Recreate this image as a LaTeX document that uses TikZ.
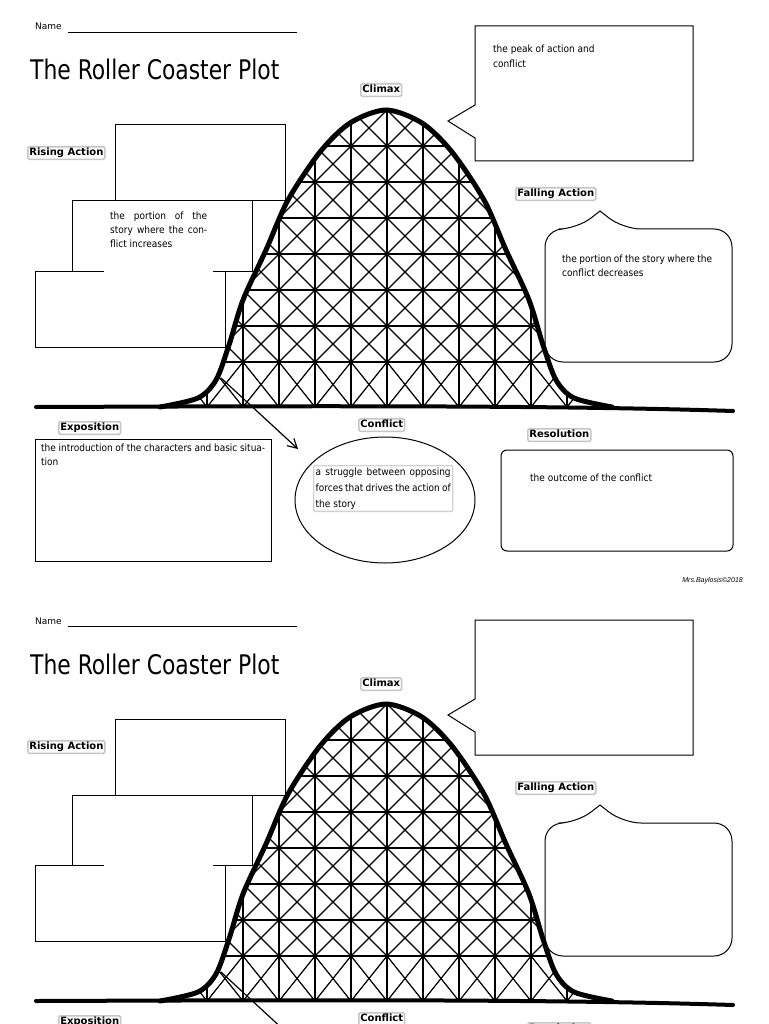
\documentclass[tikz,border=0pt]{standalone}
\usepackage{fontspec}
\setmainfont{DejaVu Sans}
\newfontfamily\condf{DejaVu Sans Condensed}
\newfontfamily\credf{Liberation Sans}
\usetikzlibrary{arrows.meta,shapes.geometric}
\tikzset{
  lab/.style={draw=gray!45,line width=1.6pt,rounded corners=1.5pt,anchor=north west,inner sep=1.5pt,font=\bfseries\fontsize{10}{12}\selectfont,text depth=2pt},
  wbox/.style={draw,line width=1pt,fill=white},
  body/.style={font=\condf\fontsize{10}{14}\selectfont,align=justify,anchor=north west,inner sep=0pt},
  post/.style={line width=2.6pt},
  diag/.style={line width=1.2pt},
  track/.style={line width=5pt,line cap=round},
}
\newcommand\coastercurve{(160,407) (198,398) (216,380) (229,345) (243,300) (266,250) (288,200) (320,152) (350,123) (386,110) (422,123) (452,152) (484,200) (506,250) (529,300) (543,345) (556,380) (574,398) (612,407)}
\newcommand\wsheet[1]{%
  \node[anchor=base west,inner sep=0pt,font=\fontsize{9}{10}\selectfont] (nm) at (35,30) {Name};
  \draw[line width=0.6pt] (68,32) -- (297,32);
  \node[anchor=base west,inner sep=0pt,font=\condf\fontsize{27}{30}\selectfont,xscale=0.9] (title) at (30,80) {The Roller Coaster Plot};
  % rising action boxes
  \node[lab] (ra) at (27,146) {Rising Action\hspace{6pt}};
  \draw[wbox] (115,125) rectangle (285,201);
  \draw[wbox] (72,201) rectangle (252,271);
  \draw[wbox] (35,271) rectangle (225,347);
  \fill[white] (104,267) rectangle (213,275);
  \draw[line width=1pt] (72,201) -- (72,271);
  \ifnum#1=1 \node[body,text width=97pt] (rat) at (110,212) {the portion of the story where the conflict increases}; \fi
  % coaster lattice
  \begin{scope}
    \clip plot[smooth] coordinates {\coastercurve} -- cycle;
    \foreach \x in {171,207,...,567}{
      \foreach \y in {110,146,...,326}{
        \draw[diag] (\x,\y) -- ++(36,36);
        \draw[diag] (\x+36,\y) -- ++(-36,36);
      }
      \draw[diag] (\x,362) -- (\x+36,407);
      \draw[diag] (\x+36,362) -- (\x,407);
    }
    \foreach \x in {207,243,...,567} \draw[post] (\x,100) -- (\x,410);
    \foreach \y in {146,182,...,362} \draw[post] (150,\y) -- (620,\y);
  \end{scope}
  \draw[track] plot[smooth] coordinates {\coastercurve};
  \draw[line width=4pt,line cap=round] (36,407) .. controls (300,406) and (550,405) .. (733,411);
  % climax
  \node[lab] (cl) at (360,83) {Climax\hspace{30pt}};
  \draw[line width=1pt] (475,26) -- (693,26) -- (693,161) -- (475,161) -- (475,138) -- (448,121) -- (475,105) -- cycle;
  \ifnum#1=1 \node[body,align=left,font=\condf\fontsize{10}{15}\selectfont] (clt) at (493,45) {the peak of action and\\conflict}; \fi
  % falling action
  \node[lab] (fa) at (515,187) {Falling Action\hspace{2pt}};
  \draw[line width=1pt,rounded corners=18pt] (600,211) -- (623,229) -- (732,229) -- (732,362) -- (545,362) -- (545,229) -- (577,229) [sharp corners] -- cycle;
  \ifnum#1=1 \node[body,text width=150pt] (fat) at (562,255) {the portion of the story where the conflict decreases}; \fi
  % exposition
  \node[lab] (ex) at (58,421) {Exposition\hspace{8pt}};
  \draw[wbox] (35,439) rectangle (271,561);
  \ifnum#1=1 \node[body,text width=224pt] (ext) at (41,444) {the introduction of the characters and basic situation}; \fi
  % conflict
  \node[lab] (co) at (358,418) {Conflict\hspace{10pt}};
  \node[draw,ellipse,line width=1pt,minimum width=180pt,minimum height=126pt,inner sep=0pt] (ce) at (385,500) {};
  \ifnum#1=1 \node[draw=gray!35,line width=1.4pt,rounded corners=1pt,inner sep=2pt,anchor=north west,text width=135pt,align=justify,font=\condf\fontsize{10}{16}\selectfont] (cot) at (313,465) {a struggle between opposing forces that drives the action of the story}; \fi
  \coordinate (as) at (221,378);
  \draw[line width=1.2pt,-{Straight Barb[length=9pt,width=10pt]}] (as) -- (298,449);
  % resolution
  \node[lab] (re) at (527,428) {Resolution\hspace{10pt}};
  \draw[line width=1pt,rounded corners=6pt] (501,450) rectangle (733,551);
  \ifnum#1=1 \node[body,align=left] (ret) at (530,474) {the outcome of the conflict};
  \node[anchor=base east,inner sep=0pt,font=\credf\itshape\fontsize{7}{8}\selectfont] (cred) at (743,582) {Mrs.Baylosis\copyright2018}; \fi
}
\begin{document}
\begin{tikzpicture}[x=1pt,y=-1pt]
\useasboundingbox (0,0) rectangle (768,1024);
\fill[white] (0,0) rectangle (768,1024);
\clip (0,0) rectangle (768,1024);
\begin{scope}[name prefix=a-]
\wsheet{1}
\end{scope}
\begin{scope}[shift={(0,594)},name prefix=b-]
\wsheet{0}
\end{scope}
\end{tikzpicture}
\end{document}
